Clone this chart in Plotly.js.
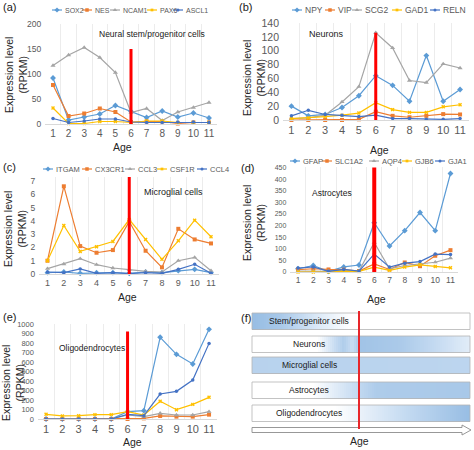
<!DOCTYPE html>
<html>
<head>
<meta charset="utf-8">
<script src="https://cdn.plot.ly/plotly-3.0.1.min.js"></script>
<style>
  html, body { margin: 0; padding: 0; background: #ffffff; }
  #chart { width: 474px; height: 450px; }
</style>
</head>
<body>
<div id="chart"></div>
<script>
// ---- Data: expression level (RPKM) by age ----
const ages = [1, 2, 3, 4, 5, 6, 7, 8, 9, 10, 11];

// (a) neural stem / progenitor cell markers
const stemNames = ['SOX2', 'NES', 'NCAM1', 'PAX6', 'ASCL1'];
const sox2  = [92, 8, 14, 20, 37, 25, 13, 26, 14, 22, 12];
const nes   = [78, 16, 21, 31, 24, 4, 5, 5, 1, 3, 3];
const ncam1 = [117, 138, 153, 133, 103, 23, 31, 7, 24, 33, 43];
const pax6  = [32, 1, 1, 5, 5, 3, 6, 6, 3, 3, 3];
const ascl1 = [11, 3, 6, 10, 10, 4, 3, 3, 4, 4, 3];

// (b) neuron markers
const neuronNames = ['NPY', 'VIP', 'SCG2', 'GAD1', 'RELN'];
const npy  = [20, 6, 8, 18, 35, 64, 50, 27, 93, 27, 44];
const vip  = [0, 0, 0, 0, 1, 12, 6, 4, 6, 8.5, 8];
const scg2 = [2, 3, 7, 26, 48, 126, 104, 57, 54, 81, 75];
const gad1 = [2, 3, 5, 7, 10, 25, 15, 11, 11, 19, 22];
const reln = [6, 14, 8, 7, 5, 7, 2, 2, 1, 1, 2];

// (c) microglial markers
const microNames = ['ITGAM', 'CX3CR1', 'CCL3', 'CSF1R', 'CCL4'];
const itgam  = [0.1, 0.15, 0.05, 0.1, 0.1, 0.05, 0.15, 0.1, 0.25, 0.35, 0.1];
const cx3cr1 = [1.0, 6.6, 2.1, 1.6, 1.8, 3.95, 1.75, 0.5, 3.4, 2.6, 2.3];
const ccl3   = [0.4, 0.75, 1.15, 0.7, 0.45, 0.33, 0.2, 0.15, 1.0, 1.25, 0.25];
const csf1r  = [1.0, 3.65, 1.7, 2.05, 2.45, 4.1, 2.6, 1.1, 2.5, 4.05, 2.8];
const ccl4   = [0.15, 0.1, 0.38, 0.05, 0.1, 0.03, 0.1, 0.05, 0.35, 0.73, 0.05];

// (d) astrocyte markers
const astroNames = ['GFAP', 'SLC1A2', 'AQP4', 'GJB6', 'GJA1'];
const gfap   = [14, 28, 3, 22, 30, 212, 112, 178, 256, 178, 424];
const slc1a2 = [10, 14, 11, 10, 4, 35, 11, 41, 25, 70, 94];
const aqp4   = [4, 3, 3, 7, 4, 127, 14, 28, 35, 42, 60];
const gjb6   = [0, 0, 0, 4, 3, 21, 7, 21, 31, 24, 18];
const gja1   = [17, 22, 3, 11, 4, 77, 21, 38, 45, 77, 75];

// (e) oligodendrocyte markers (five series, no legend)
const oligoNames = ['oligodendrocyte marker 1', 'oligodendrocyte marker 2',
                    'oligodendrocyte marker 3', 'oligodendrocyte marker 4',
                    'oligodendrocyte marker 5'];
const oligo1 = [0, 0, 0, 0, 0, 77, 88, 860, 681, 579, 944];
const oligo2 = [0, 0, 0, 0, 0, 0, 7, 32, 25, 25, 46];
const oligo3 = [0, 0, 0, 0, 0, 42, 25, 60, 42, 42, 77];
const oligo4 = [49, 32, 35, 46, 46, 77, 42, 186, 98, 154, 228];
const oligo5 = [0, 0, 0, 0, 0, 49, 35, 263, 291, 410, 796];

// transition age marked by the red line, and how far up it reaches in each panel
const transitionAge = 6;
const transitionTop = [150, 126, 7.3, 450, 920];

// (f) schematic: cell populations and their relative presence along the age axis
// (pairs of [fraction of age axis, shading intensity 0..1])
const stageNames = ['Stem/progenitor cells', 'Neurons', 'Microglial cells',
                    'Astrocytes', 'Oligodendrocytes'];
const stagePresence = [
  [[0, 0.95], [0.12, 0.8], [0.3, 0.3], [0.45, 0], [1, 0]],
  [[0, 0], [0.3, 0], [0.42, 0.7], [0.46, 0.45], [0.5, 0.85], [0.68, 0.75], [1, 0.25]],
  [[0, 0.62], [1, 0.58]],
  [[0, 0], [0.28, 0], [0.57, 0.72], [1, 0.78]],
  [[0, 0], [0.38, 0], [1, 0.95]]
];

// ---- Styles ----
const seriesStyle = [
  { color: '#5B9BD5', symbol: 'diamond', size: 4.5 },
  { color: '#ED7D31', symbol: 'square', size: 4 },
  { color: '#A5A5A5', symbol: 'triangle-up', size: 4.5 },
  { color: '#FFC000', symbol: 'x', size: 3.5 },
  { color: '#4472C4', symbol: 'circle', size: 3.5 }
];
const FONT = 'Liberation Sans, Arial, sans-serif';
const TICK_COLOR = '#595959';

// panel geometry in pixels (474 x 450 figure)
const W = 474, H = 450;
const panels = [
  { series: [sox2, nes, ncam1, pax6, ascl1], names: stemNames,
    px: [45.2, 216.8], py: [24, 124], yr: [0, 200], dy: 50,
    yFont: 8.5, xFont: 10,
    legend: { y: 10, keys: [52, 82, 110, 147, 173], size: 7 },
    redW: 3 },
  { series: [npy, vip, scg2, gad1, reln], names: neuronNames,
    px: [283, 468.5], py: [23, 120], yr: [0, 140], dy: 20,
    yFont: 10.5, xFont: 11,
    legend: { y: 10, keys: [292, 325, 352, 392, 430], size: 8.5 },
    redW: 3 },
  { series: [itgam, cx3cr1, ccl3, csf1r, ccl4], names: microNames,
    px: [39.3, 219.2], py: [177, 274], yr: [0, 7.3], dy: 1,
    yFont: 8.5, xFont: 9,
    legend: { y: 169, keys: [43, 82, 125, 157, 197], size: 7.5 },
    redW: 3 },
  { series: [gfap, slc1a2, aqp4, gjb6, gja1], names: astroNames,
    px: [290.4, 458.1], py: [167, 272], yr: [0, 452], dy: 50,
    yFont: 7, xFont: 8.5,
    legend: { y: 161, keys: [290, 322, 369, 402, 435], size: 7.5 },
    redW: 4 },
  { series: [oligo1, oligo2, oligo3, oligo4, oligo5], names: oligoNames,
    px: [37.9, 217.2], py: [324, 419], yr: [0, 1000], dy: 100,
    yFont: 7.5, xFont: 11,
    legend: null,
    redW: 3 }
];

const traces = [];
const layout = {
  width: W, height: H,
  margin: { l: 0, r: 0, t: 0, b: 0 },
  paper_bgcolor: '#ffffff',
  plot_bgcolor: 'rgba(0,0,0,0)',
  showlegend: false,
  font: { family: FONT, color: TICK_COLOR },
  annotations: [],
  hovermode: false
};

// pixel overlay axes used for keys, captions and the schematic
const OV = 6;
layout['xaxis' + OV] = { domain: [0, 1], range: [0, W], visible: false, fixedrange: true, anchor: 'y' + OV };
layout['yaxis' + OV] = { domain: [0, 1], range: [H, 0], visible: false, fixedrange: true, anchor: 'x' + OV };

function note(text, x, y, opts) {
  layout.annotations.push(Object.assign({
    text: text, x: x, y: y, xref: 'x' + OV, yref: 'y' + OV,
    showarrow: false, xanchor: 'center', yanchor: 'middle',
    font: { family: FONT, size: 10.5, color: '#262626' }
  }, opts || {}));
}

// ---- (f) schematic drawn first so it sits underneath its labels ----
const boxX = [252, 470];
const boxTops = [313, 336, 357, 382, 405];
const boxH = 16.5;
const SLICES = 109;
function presenceAt(stops, f) {
  for (let j = 1; j < stops.length; j++) {
    if (f <= stops[j][0]) {
      const a = stops[j - 1], b = stops[j];
      return a[1] + (b[1] - a[1]) * (f - a[0]) / (b[0] - a[0]);
    }
  }
  return stops[stops.length - 1][1];
}
stageNames.forEach((name, k) => {
  const y0 = boxTops[k], y1 = y0 + boxH;
  const edges = [], row = [];
  for (let s = 0; s <= SLICES; s++) edges.push(boxX[0] + (boxX[1] - boxX[0]) * s / SLICES);
  for (let s = 0; s < SLICES; s++) row.push(presenceAt(stagePresence[k], (s + 0.5) / SLICES));
  traces.push({
    type: 'heatmap', x: edges, y: [y0, y1], z: [row],
    xaxis: 'x' + OV, yaxis: 'y' + OV,
    zmin: 0, zmax: 1, showscale: false, zsmooth: false, hoverinfo: 'skip',
    colorscale: [[0, '#ffffff'], [0.5, 'rgb(196,218,241)'], [1, 'rgb(146,186,226)']]
  });
  traces.push({
    type: 'scatter', mode: 'lines',
    x: [boxX[0], boxX[1], boxX[1], boxX[0], boxX[0]],
    y: [y0, y0, y1, y1, y0],
    xaxis: 'x' + OV, yaxis: 'y' + OV,
    line: { color: '#b4b4b4', width: 0.8 }
  });
  note(name, 309, y0 + boxH / 2, { font: { family: FONT, size: 8.5, color: '#1a1a1a' } });
});
// age arrow
traces.push({
  type: 'scatter', mode: 'lines',
  x: [252, 462, 462, 471, 462, 462, 252, 252],
  y: [427.5, 427.5, 425, 430, 435, 432.5, 432.5, 427.5],
  xaxis: 'x' + OV, yaxis: 'y' + OV,
  fill: 'toself', fillcolor: '#ffffff',
  line: { color: '#8c8c8c', width: 0.9 }
});
// transition marker across the schematic
traces.push({
  type: 'scatter', mode: 'lines',
  x: [359, 359], y: [311, 429],
  xaxis: 'x' + OV, yaxis: 'y' + OV,
  line: { color: '#E8262A', width: 2 }
});

// ---- line charts (a)-(e) ----
panels.forEach((p, i) => {
  const n = i + 1;
  const xa = 'x' + (n === 1 ? '' : n), ya = 'y' + (n === 1 ? '' : n);
  layout['xaxis' + (n === 1 ? '' : n)] = {
    domain: [p.px[0] / W, p.px[1] / W],
    range: [0.5, 11.5],
    anchor: ya,
    tickmode: 'array', tickvals: ages, ticktext: ages.map(String),
    ticks: '', showgrid: false, zeroline: false,
    showline: true, linecolor: '#d9d9d9', linewidth: 1,
    minor: { tick0: 0.5, dtick: 1, showgrid: true, gridcolor: '#ececec', gridwidth: 1, ticks: '' },
    tickfont: { family: FONT, size: p.xFont, color: TICK_COLOR },
    fixedrange: true
  };
  layout['yaxis' + (n === 1 ? '' : n)] = {
    domain: [1 - p.py[1] / H, 1 - p.py[0] / H],
    range: p.yr,
    anchor: xa,
    tick0: 0, dtick: p.dy,
    ticks: '', showgrid: false, zeroline: false, showline: false,
    tickfont: { family: FONT, size: p.yFont, color: TICK_COLOR },
    ticklabelstandoff: 3,
    fixedrange: true
  };
  p.series.forEach((vals, k) => {
    const s = seriesStyle[k];
    traces.push({
      type: 'scatter', mode: 'lines+markers', name: p.names[k],
      x: ages, y: vals, xaxis: xa, yaxis: ya,
      line: { color: s.color, width: 1.2 },
      marker: { color: s.color, symbol: s.symbol, size: s.size, line: { width: 0 } },
      cliponaxis: false
    });
  });
  // transition line at age 6
  traces.push({
    type: 'scatter', mode: 'lines', name: 'transition',
    x: [transitionAge, transitionAge], y: [0, transitionTop[i]],
    xaxis: xa, yaxis: ya,
    line: { color: '#FF0000', width: p.redW }
  });
  // legend keys drawn on the overlay
  if (p.legend) {
    p.legend.keys.forEach((kx, k) => {
      const s = seriesStyle[k];
      traces.push({
        type: 'scatter', mode: 'lines', x: [kx, kx + 10], y: [p.legend.y, p.legend.y],
        xaxis: 'x' + OV, yaxis: 'y' + OV,
        line: { color: s.color, width: 1.2 }
      });
      traces.push({
        type: 'scatter', mode: 'markers', x: [kx + 5], y: [p.legend.y],
        xaxis: 'x' + OV, yaxis: 'y' + OV,
        marker: { color: s.color, symbol: s.symbol, size: s.size - 0.5, line: { width: 0 } }
      });
      note(p.names[k], kx + 11, p.legend.y, {
        xanchor: 'left', font: { family: FONT, size: p.legend.size, color: TICK_COLOR }
      });
    });
  }
});

// panel letters
[['(a)', 1, 7], ['(b)', 237, 7], ['(c)', 1, 167], ['(d)', 239, 168], ['(e)', 1, 317], ['(f)', 239, 318]]
  .forEach(([t, x, y]) => note(t, x, y, { xanchor: 'left', font: { family: FONT, size: 11, color: '#1a1a1a' } }));

// y-axis captions
[[16, 75], [254, 78], [15, 229], [254, 223], [13, 383]].forEach(([x, y]) =>
  note('Expression level<br>(RPKM)', x, y, { textangle: -90, font: { family: FONT, size: 10.5, color: '#262626' } }));

// x-axis captions
[[122, 147], [379, 150], [127, 297], [376, 299], [132, 442], [359, 441]].forEach(([x, y]) =>
  note('Age', x, y, { font: { family: FONT, size: 10.5, color: '#262626' } }));

// cell-type captions inside the charts
note('Neural stem/progenitor cells', 152, 34, { font: { family: FONT, size: 8.5, color: '#1a1a1a' } });
note('Neurons', 326, 34, { font: { family: FONT, size: 9, color: '#1a1a1a' } });
note('Microglial cells', 173, 192, { font: { family: FONT, size: 9, color: '#1a1a1a' } });
note('Astrocytes', 332, 193, { font: { family: FONT, size: 8.5, color: '#1a1a1a' } });
note('Oligodendrocytes', 92, 348, { font: { family: FONT, size: 8.5, color: '#1a1a1a' } });

Plotly.newPlot('chart', traces, layout, { staticPlot: true, displayModeBar: false });
</script>
</body>
</html>
